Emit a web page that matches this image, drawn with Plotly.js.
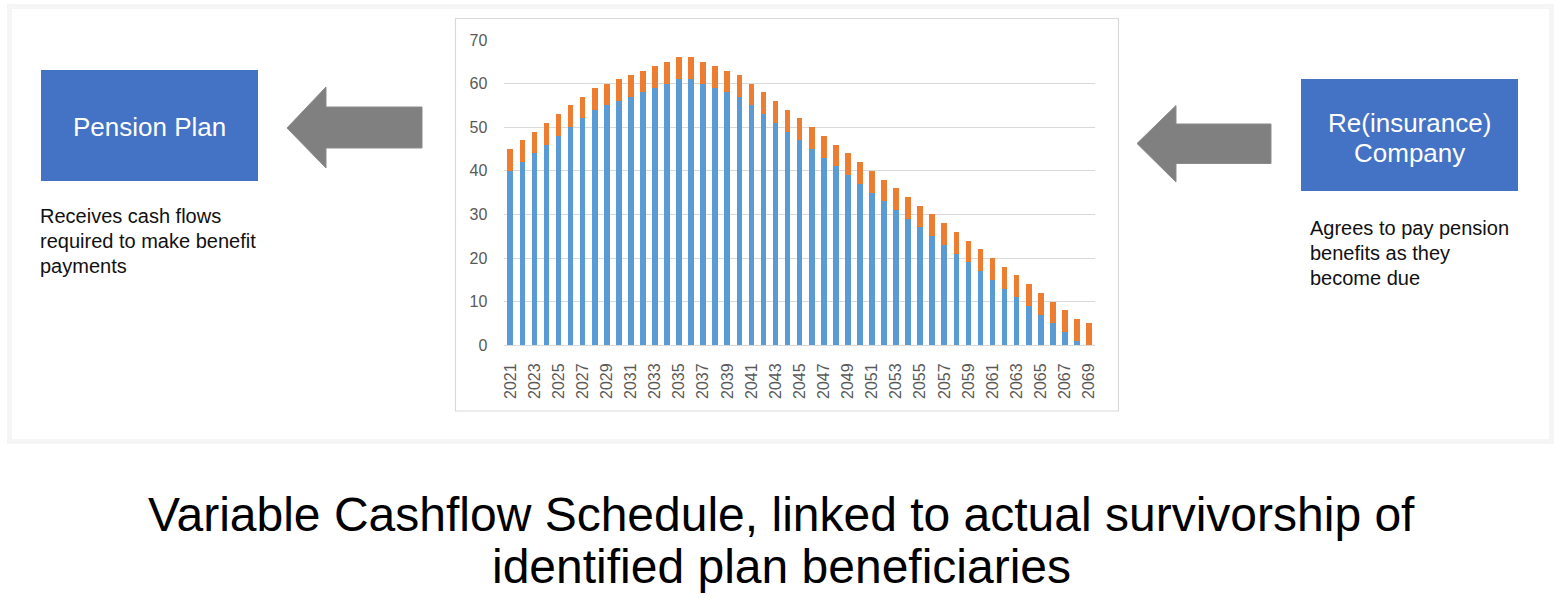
<!DOCTYPE html>
<html>
<head>
<meta charset="utf-8">
<script src="https://cdn.plot.ly/plotly-3.0.1.min.js"></script>
<style>html,body{margin:0;padding:0;background:#fff;}#chart{width:1561px;height:598px;}</style>
</head>
<body>
<div id="chart"></div>
<script>
// ---- data ----
const years = ["2021","2022","2023","2024","2025","2026","2027","2028","2029","2030",
  "2031","2032","2033","2034","2035","2036","2037","2038","2039","2040",
  "2041","2042","2043","2044","2045","2046","2047","2048","2049","2050",
  "2051","2052","2053","2054","2055","2056","2057","2058","2059","2060",
  "2061","2062","2063","2064","2065","2066","2067","2068","2069"];
const baseFlows = [40,42,44,46,48,50,52,54,55,56,
  57,58,59,60,61,61,60,59,58,57,
  55,53,51,49,47,45,43,41,39,37,
  35,33,31,29,27,25,23,21,19,17,
  15,13,11,9,7,5,3,1,0];
const extraFlows = [5,5,5,5,5,5,5,5,5,5,
  5,5,5,5,5,5,5,5,5,5,
  5,5,5,5,5,5,5,5,5,5,
  5,5,5,5,5,5,5,5,5,5,
  5,5,5,5,5,5,5,5,5];
const tickYears = ["2021","2023","2025","2027","2029","2031","2033","2035","2037","2039",
  "2041","2043","2045","2047","2049","2051","2053","2055","2057","2059",
  "2061","2063","2065","2067","2069"];
const yTicks = [0,10,20,30,40,50,60,70];

const leftBoxLabel = "Pension Plan";
const leftNote = ["Receives cash flows","required to make benefit","payments"];
const rightBoxLabel = ["Re(insurance)","Company"];
const rightNote = ["Agrees to pay pension","benefits as they","become due"];
const caption = ["Variable Cashflow Schedule, linked to actual survivorship of","identified plan beneficiaries"];

// ---- layout helpers (pixel -> paper) ----
const W = 1561, H = 598;
const px = x => x / W;
const py = y => 1 - y / H;
function poly(pts){
  return "M" + pts.map(p => px(p[0]).toFixed(5) + "," + py(p[1]).toFixed(5)).join(" L") + " Z";
}

const traces = [
  {type:"bar", x: years, y: baseFlows, marker:{color:"#5B9BD5"}, hoverinfo:"x+y", name:"Base"},
  {type:"bar", x: years, y: extraFlows, marker:{color:"#ED7D31"}, hoverinfo:"x+y", name:"Extra"}
];

const shapes = [
  // card shadow + card
  {type:"rect", xref:"paper", yref:"paper", x0:px(8.5), x1:px(1552.5), y0:py(442.5), y1:py(5.5), line:{color:"#f5f5f5", width:3}, fillcolor:"rgba(0,0,0,0)", layer:"below"},
  {type:"rect", xref:"paper", yref:"paper", x0:px(11), x1:px(1550), y0:py(440), y1:py(8), line:{color:"#ececec", width:1}, fillcolor:"#ffffff", layer:"below"},
  // chart frame
  {type:"rect", xref:"paper", yref:"paper", x0:px(455.5), x1:px(1118.5), y0:py(411), y1:py(18.5), line:{color:"#d9d9d9", width:1.2}, fillcolor:"rgba(0,0,0,0)", layer:"below"},
  // boxes
  {type:"rect", xref:"paper", yref:"paper", x0:px(41), x1:px(258), y0:py(181), y1:py(70), line:{width:0}, fillcolor:"#4472C4"},
  {type:"rect", xref:"paper", yref:"paper", x0:px(1301), x1:px(1518), y0:py(191), y1:py(79), line:{width:0}, fillcolor:"#4472C4"},
  // arrows
  {type:"path", xref:"paper", yref:"paper", path: poly([[287,128],[326,87],[326,107],[422,107],[422,148],[326,148],[326,168]]), fillcolor:"#808080", line:{color:"#8a8a8a", width:1}},
  {type:"path", xref:"paper", yref:"paper", path: poly([[1137,143.5],[1176,105.5],[1176,124],[1271,124],[1271,163.5],[1176,163.5],[1176,182]]), fillcolor:"#808080", line:{color:"#8a8a8a", width:1}}
];

const annotations = [];
function addText(text, x, y, size, color, xanchor){
  annotations.push({xref:"paper", yref:"paper", x:px(x), y:py(y), text:text, showarrow:false,
    xanchor:xanchor, yanchor:"middle", font:{family:"Liberation Sans, Arial, sans-serif", size:size, color:color}});
}
addText(leftBoxLabel, 149.5, 127, 26, "#ffffff", "center");
addText(rightBoxLabel[0], 1409.5, 122.5, 26, "#ffffff", "center");
addText(rightBoxLabel[1], 1409.5, 153, 26, "#ffffff", "center");
[215, 240, 265].forEach((y,i) => addText(leftNote[i], 38, y+1, 20, "#111111", "left"));
[227, 252, 277].forEach((y,i) => addText(rightNote[i], 1308, y+1, 20, "#111111", "left"));
addText(caption[0], 781, 514, 48, "#000000", "center");
addText(caption[1], 781, 566, 48, "#000000", "center");

const layout = {
  width: W, height: H,
  margin:{l:0, r:0, t:0, b:0},
  paper_bgcolor:"#ffffff", plot_bgcolor:"rgba(0,0,0,0)",
  showlegend:false,
  barmode:"stack", bargap:0.53,
  xaxis:{domain:[px(504.3), px(1095)], type:"category", automargin:false,
    tickmode:"array", tickvals: tickYears, ticktext: tickYears, tickangle:-90,
    ticks:"", ticklabelstandoff:14, showgrid:false, showline:false, zeroline:false,
    tickfont:{family:"Liberation Sans, Arial, sans-serif", size:16, color:"#595959"}},
  yaxis:{domain:[py(345.2), py(40)], range:[0,70], automargin:false,
    tickmode:"array", tickvals: yTicks, ticks:"", ticklabelstandoff:16,
    showgrid:true, gridcolor:"#d9d9d9", gridwidth:1, zeroline:true, zerolinecolor:"#d9d9d9", zerolinewidth:1.3,
    showline:false,
    tickfont:{family:"Liberation Sans, Arial, sans-serif", size:16, color:"#595959"}},
  shapes: shapes,
  annotations: annotations
};

Plotly.newPlot("chart", traces, layout, {displayModeBar:false, staticPlot:true});
</script>
</body>
</html>
